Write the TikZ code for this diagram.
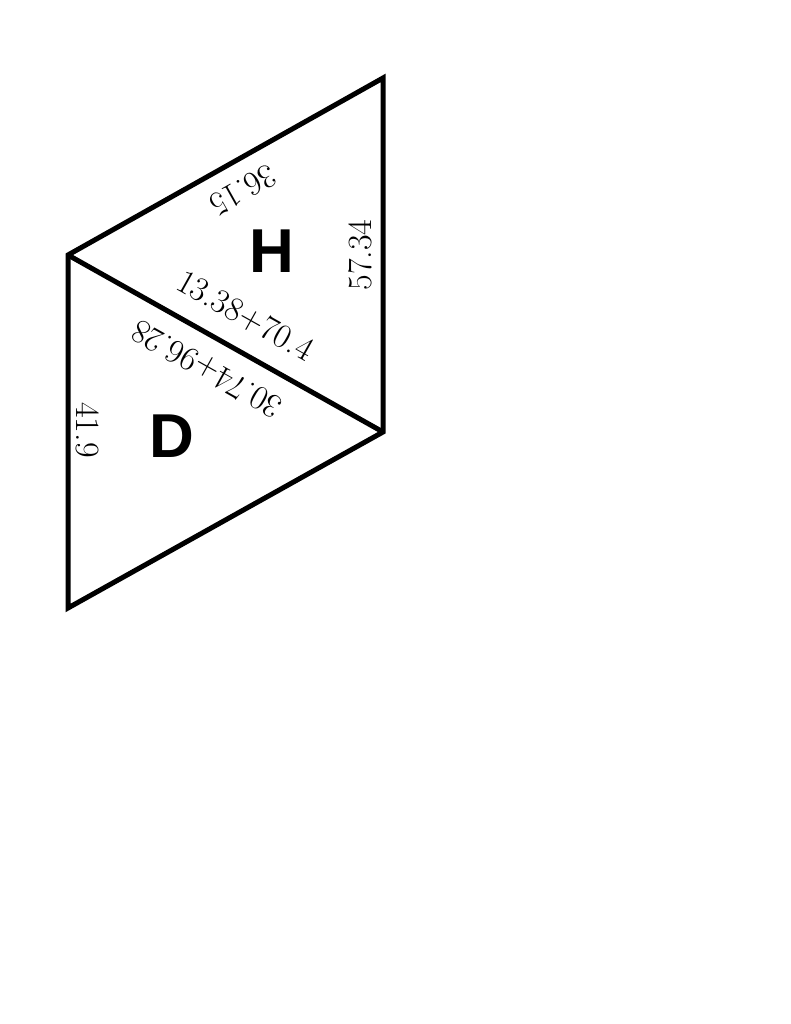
\documentclass[tikz,border=0pt]{standalone}
\usepackage{fontspec}
\newfontfamily\capsfont{Liberation Sans}
\tikzset{
  edgenum/.style={font=\fontsize{34}{38}\selectfont, inner sep=0pt},
  piece/.style={font=\capsfont\bfseries\fontsize{62}{66}\selectfont, inner sep=0pt}
}
\begin{document}
\begin{tikzpicture}[x=1pt,y=-1pt]
\useasboundingbox (0,0) rectangle (791,1024);
\coordinate (tr) at (383,78);
\coordinate (tl) at (68,255);
\coordinate (mr) at (383,432);
\coordinate (bl) at (68,608);
\draw[line width=5pt] (tl)--(tr)--(mr)--(bl)--cycle;
\draw[line width=5pt] (tl)--(mr);
% triangle H
\node[edgenum, rotate=209.3] (top) at (243,190) {36.15};
\node[edgenum, rotate=90] (right) at (360,255) {57.34};
\node[edgenum, rotate=-29.3] (diagH) at (245,316) {13.38+70.4};
\node[piece] (H) at (272,251) {H};
% triangle D
\node[edgenum, rotate=150.7] (diagD) at (207,369) {30.74+96.28};
\node[edgenum, rotate=-90] (left) at (88,430) {41.9};
\node[piece] (D) at (172,436) {D};
\end{tikzpicture}
\end{document}
